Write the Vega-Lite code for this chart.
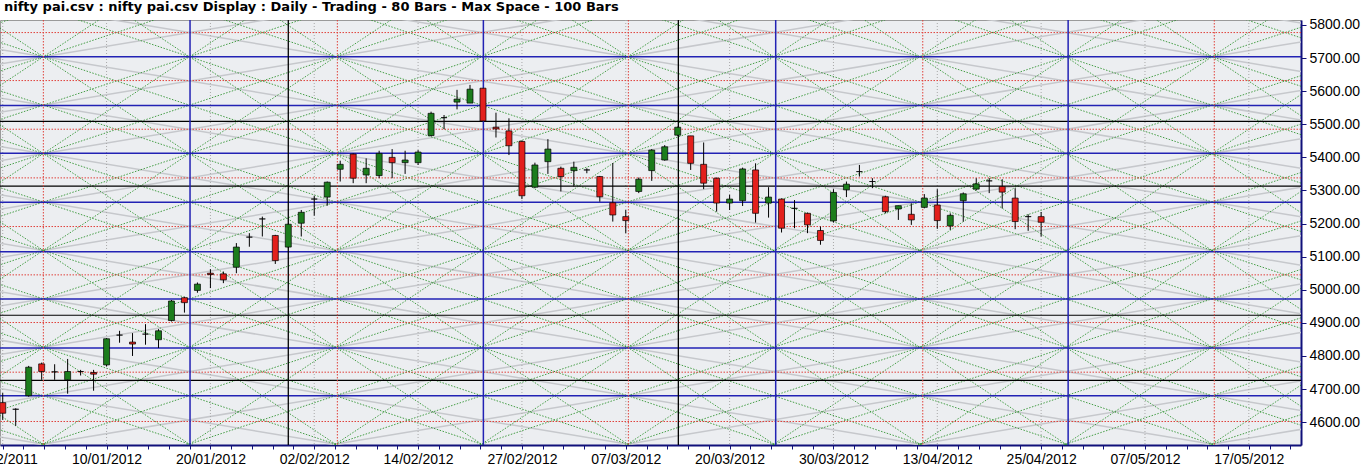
{
  "$schema": "https://vega.github.io/schema/vega-lite/v6.json",
  "width": 1301,
  "height": 425,
  "autosize": {"type": "none"},
  "padding": {"left": 0, "top": 20, "right": 65, "bottom": 25},
  "background": "#ffffff",
  "title": {"text": "nifty pai.csv : nifty pai.csv Display :  Daily  - Trading - 80 Bars -  Max Space - 100 Bars", "anchor": "start", "frame": "group", "dx": 4, "offset": 4, "font": "DejaVu Sans", "fontSize": 13, "fontWeight": "bold", "color": "#000000"},
  "config": {"view": {"fill": "#eceef1", "stroke": "#9a9a9a"}},
  "datasets": {
    "candles": [
      {"i":0,"o":4659,"h":4688,"l":4607,"c":4627},{"i":1,"o":4639,"h":4642,"l":4589,"c":4639},{"i":2,"o":4680,"h":4770,"l":4677,"c":4766},{"i":3,"o":4776,"h":4780,"l":4728,"c":4753},{"i":4,"o":4752,"h":4775,"l":4728,"c":4752},
      {"i":5,"o":4728,"h":4791,"l":4686,"c":4753},{"i":6,"o":4753,"h":4758,"l":4741,"c":4753},{"i":7,"o":4750,"h":4758,"l":4695,"c":4745},{"i":8,"o":4773,"h":4854,"l":4768,"c":4852},{"i":9,"o":4863,"h":4876,"l":4840,"c":4863},
      {"i":10,"o":4842,"h":4869,"l":4800,"c":4836},{"i":11,"o":4866,"h":4896,"l":4834,"c":4866},{"i":12,"o":4849,"h":4881,"l":4824,"c":4876},{"i":13,"o":4907,"h":4969,"l":4904,"c":4966},{"i":14,"o":4976,"h":4979,"l":4931,"c":4961},
      {"i":15,"o":4998,"h":5022,"l":4991,"c":5017},{"i":16,"o":5050,"h":5062,"l":5005,"c":5046},{"i":17,"o":5048,"h":5055,"l":5020,"c":5030},{"i":18,"o":5068,"h":5141,"l":5050,"c":5129},{"i":19,"o":5159,"h":5171,"l":5130,"c":5159},
      {"i":20,"o":5214,"h":5221,"l":5161,"c":5214},{"i":21,"o":5164,"h":5166,"l":5078,"c":5088},{"i":22,"o":5129,"h":5200,"l":5126,"c":5198},{"i":23,"o":5201,"h":5241,"l":5161,"c":5234},{"i":24,"o":5274,"h":5284,"l":5224,"c":5274},
      {"i":25,"o":5280,"h":5327,"l":5254,"c":5325},{"i":26,"o":5364,"h":5390,"l":5327,"c":5379},{"i":27,"o":5410,"h":5412,"l":5322,"c":5337},{"i":28,"o":5347,"h":5397,"l":5322,"c":5367},{"i":29,"o":5345,"h":5420,"l":5337,"c":5412},
      {"i":30,"o":5400,"h":5425,"l":5337,"c":5384},{"i":31,"o":5384,"h":5420,"l":5350,"c":5392},{"i":32,"o":5384,"h":5422,"l":5377,"c":5416},{"i":33,"o":5466,"h":5538,"l":5463,"c":5533},{"i":34,"o":5520,"h":5528,"l":5485,"c":5520},
      {"i":35,"o":5567,"h":5604,"l":5545,"c":5576},{"i":36,"o":5564,"h":5619,"l":5564,"c":5606},{"i":37,"o":5609,"h":5609,"l":5510,"c":5510},{"i":38,"o":5491,"h":5535,"l":5460,"c":5486},{"i":39,"o":5480,"h":5518,"l":5407,"c":5435},
      {"i":40,"o":5448,"h":5451,"l":5274,"c":5284},{"i":41,"o":5310,"h":5384,"l":5307,"c":5377},{"i":42,"o":5387,"h":5455,"l":5350,"c":5425},{"i":43,"o":5367,"h":5372,"l":5297,"c":5342},{"i":44,"o":5360,"h":5387,"l":5312,"c":5370},
      {"i":45,"o":5362,"h":5367,"l":5352,"c":5362},{"i":46,"o":5342,"h":5344,"l":5266,"c":5281},{"i":47,"o":5263,"h":5383,"l":5206,"c":5226},{"i":48,"o":5221,"h":5241,"l":5171,"c":5209},{"i":49,"o":5297,"h":5339,"l":5292,"c":5334},
      {"i":50,"o":5360,"h":5425,"l":5329,"c":5422},{"i":51,"o":5392,"h":5437,"l":5390,"c":5432},{"i":52,"o":5467,"h":5493,"l":5465,"c":5491},{"i":53,"o":5465,"h":5465,"l":5362,"c":5382},{"i":54,"o":5379,"h":5445,"l":5304,"c":5322},
      {"i":55,"o":5337,"h":5339,"l":5236,"c":5262},{"i":56,"o":5262,"h":5287,"l":5241,"c":5274},{"i":57,"o":5269,"h":5369,"l":5253,"c":5365},{"i":58,"o":5362,"h":5382,"l":5203,"c":5231},{"i":59,"o":5262,"h":5310,"l":5218,"c":5280},
      {"i":60,"o":5274,"h":5276,"l":5173,"c":5186},{"i":61,"o":5246,"h":5271,"l":5186,"c":5246},{"i":62,"o":5231,"h":5233,"l":5171,"c":5196},{"i":63,"o":5179,"h":5191,"l":5136,"c":5149},{"i":64,"o":5208,"h":5304,"l":5203,"c":5294},
      {"i":65,"o":5302,"h":5327,"l":5280,"c":5319},{"i":66,"o":5357,"h":5377,"l":5342,"c":5357},{"i":67,"o":5327,"h":5337,"l":5307,"c":5327},{"i":68,"o":5281,"h":5284,"l":5231,"c":5236},{"i":69,"o":5244,"h":5254,"l":5211,"c":5254},
      {"i":70,"o":5228,"h":5261,"l":5196,"c":5211},{"i":71,"o":5249,"h":5289,"l":5246,"c":5277},{"i":72,"o":5256,"h":5304,"l":5184,"c":5209},{"i":73,"o":5193,"h":5231,"l":5181,"c":5225},{"i":74,"o":5269,"h":5294,"l":5206,"c":5290},
      {"i":75,"o":5304,"h":5337,"l":5300,"c":5320},{"i":76,"o":5329,"h":5337,"l":5292,"c":5329},{"i":77,"o":5312,"h":5334,"l":5246,"c":5295},{"i":78,"o":5277,"h":5307,"l":5183,"c":5206},{"i":79,"o":5221,"h":5228,"l":5178,"c":5221},
      {"i":80,"o":5221,"h":5235,"l":5161,"c":5204}
    ],
    "gfans": [
      {"a":-1,"p1":4560.4,"b":101,"p2":3897.4},{"a":-1,"p1":4706.7,"b":101,"p2":4043.7},{"a":-1,"p1":4853.0,"b":101,"p2":4190.0},{"a":-1,"p1":4999.3,"b":101,"p2":4336.3},{"a":-1,"p1":5145.6,"b":101,"p2":4482.6},
      {"a":-1,"p1":5291.9,"b":101,"p2":4628.9},{"a":-1,"p1":5438.2,"b":101,"p2":4775.2},{"a":-1,"p1":5584.5,"b":101,"p2":4921.5},{"a":-1,"p1":5730.8,"b":101,"p2":5067.8},{"a":-1,"p1":5877.1,"b":101,"p2":5214.1},
      {"a":-1,"p1":6023.4,"b":101,"p2":5360.4},{"a":-1,"p1":6169.7,"b":101,"p2":5506.7},{"a":-1,"p1":6316.0,"b":101,"p2":5653.0},{"a":-1,"p1":6462.3,"b":101,"p2":5799.3},
      {"a":-1,"p1":5677.2,"b":101,"p2":6340.2},{"a":-1,"p1":5530.9,"b":101,"p2":6193.9},{"a":-1,"p1":5384.6,"b":101,"p2":6047.6},{"a":-1,"p1":5238.3,"b":101,"p2":5901.3},{"a":-1,"p1":5092.0,"b":101,"p2":5755.0},
      {"a":-1,"p1":4945.7,"b":101,"p2":5608.7},{"a":-1,"p1":4799.4,"b":101,"p2":5462.4},{"a":-1,"p1":4653.1,"b":101,"p2":5316.1},{"a":-1,"p1":4506.8,"b":101,"p2":5169.8},{"a":-1,"p1":4360.5,"b":101,"p2":5023.5},
      {"a":-1,"p1":4214.2,"b":101,"p2":4877.2},{"a":-1,"p1":4067.9,"b":101,"p2":4730.9},{"a":-1,"p1":3921.6,"b":101,"p2":4584.6}
    ],
    "fans": [
      {"a":-1,"p1":4641.0,"b":101,"p2":1989.0},{"a":-1,"p1":4933.6,"b":101,"p2":2281.6},{"a":-1,"p1":5226.2,"b":101,"p2":2574.2},{"a":-1,"p1":5518.8,"b":101,"p2":2866.8},{"a":-1,"p1":5811.4,"b":101,"p2":3159.4},
      {"a":-1,"p1":6104.0,"b":101,"p2":3452.0},{"a":-1,"p1":6396.6,"b":101,"p2":3744.6},{"a":-1,"p1":6689.2,"b":101,"p2":4037.2},{"a":-1,"p1":6981.8,"b":101,"p2":4329.8},{"a":-1,"p1":7274.4,"b":101,"p2":4622.4},
      {"a":-1,"p1":7567.0,"b":101,"p2":4915.0},{"a":-1,"p1":7859.6,"b":101,"p2":5207.6},{"a":-1,"p1":8152.2,"b":101,"p2":5500.2},{"a":-1,"p1":8444.8,"b":101,"p2":5792.8},
      {"a":-1,"p1":5596.6,"b":101,"p2":8248.6},{"a":-1,"p1":5304.0,"b":101,"p2":7956.0},{"a":-1,"p1":5011.4,"b":101,"p2":7663.4},{"a":-1,"p1":4718.8,"b":101,"p2":7370.8},{"a":-1,"p1":4426.2,"b":101,"p2":7078.2},
      {"a":-1,"p1":4133.6,"b":101,"p2":6785.6},{"a":-1,"p1":3841.0,"b":101,"p2":6493.0},{"a":-1,"p1":3548.4,"b":101,"p2":6200.4},{"a":-1,"p1":3255.8,"b":101,"p2":5907.8},{"a":-1,"p1":2963.2,"b":101,"p2":5615.2},
      {"a":-1,"p1":2670.6,"b":101,"p2":5322.6},{"a":-1,"p1":2378.0,"b":101,"p2":5030.0},{"a":-1,"p1":2085.4,"b":101,"p2":4737.4},
      {"a":-1,"p1":4587.3,"b":101,"p2":3261.3},{"a":-1,"p1":4733.6,"b":101,"p2":3407.6},{"a":-1,"p1":4879.9,"b":101,"p2":3553.9},{"a":-1,"p1":5026.2,"b":101,"p2":3700.2},{"a":-1,"p1":5172.5,"b":101,"p2":3846.5},
      {"a":-1,"p1":5318.8,"b":101,"p2":3992.8},{"a":-1,"p1":5465.1,"b":101,"p2":4139.1},{"a":-1,"p1":5611.4,"b":101,"p2":4285.4},{"a":-1,"p1":5757.7,"b":101,"p2":4431.7},{"a":-1,"p1":5904.0,"b":101,"p2":4578.0},
      {"a":-1,"p1":6050.3,"b":101,"p2":4724.3},{"a":-1,"p1":6196.6,"b":101,"p2":4870.6},{"a":-1,"p1":6342.9,"b":101,"p2":5016.9},{"a":-1,"p1":6489.2,"b":101,"p2":5163.2},{"a":-1,"p1":6635.5,"b":101,"p2":5309.5},
      {"a":-1,"p1":6781.8,"b":101,"p2":5455.8},{"a":-1,"p1":6928.1,"b":101,"p2":5602.1},{"a":-1,"p1":7074.4,"b":101,"p2":5748.4},
      {"a":-1,"p1":5796.6,"b":101,"p2":7122.6},{"a":-1,"p1":5650.3,"b":101,"p2":6976.3},{"a":-1,"p1":5504.0,"b":101,"p2":6830.0},{"a":-1,"p1":5357.7,"b":101,"p2":6683.7},{"a":-1,"p1":5211.4,"b":101,"p2":6537.4},
      {"a":-1,"p1":5065.1,"b":101,"p2":6391.1},{"a":-1,"p1":4918.8,"b":101,"p2":6244.8},{"a":-1,"p1":4772.5,"b":101,"p2":6098.5},{"a":-1,"p1":4626.2,"b":101,"p2":5952.2},{"a":-1,"p1":4479.9,"b":101,"p2":5805.9},
      {"a":-1,"p1":4333.6,"b":101,"p2":5659.6},{"a":-1,"p1":4187.3,"b":101,"p2":5513.3},{"a":-1,"p1":4041.0,"b":101,"p2":5367.0},{"a":-1,"p1":3894.7,"b":101,"p2":5220.7},{"a":-1,"p1":3748.4,"b":101,"p2":5074.4},
      {"a":-1,"p1":3602.1,"b":101,"p2":4928.1},{"a":-1,"p1":3455.8,"b":101,"p2":4781.8},{"a":-1,"p1":3309.5,"b":101,"p2":4635.5}
    ]
  },
  "encoding": {
    "x": {"type": "quantitative", "scale": {"domain": [-0.21, 100.02], "nice": false, "zero": false, "padding": 0},
          "axis": {"orient": "bottom", "values": [0,1.6,3.2,4.8,6.4,8,9.6,11.2,12.8,14.4,16,17.6,19.2,20.8,22.4,24,25.6,27.2,28.8,30.4,32,33.6,35.2,36.8,38.4,40,41.6,43.2,44.8,46.4,48,49.6,51.2,52.8,54.4,56,57.6,59.2,60.8,62.4,64,65.6,67.2,68.8,70.4,72,73.6,75.2,76.8,78.4,80,81.6,83.2,84.8,86.4,88,89.6,91.2,92.8,94.4,96,97.6,99.2], "labelExpr": "datum.value % 8 == 0 ? ['30/12/2011','10/01/2012','20/01/2012','02/02/2012','14/02/2012','27/02/2012','07/03/2012','20/03/2012','30/03/2012','13/04/2012','25/04/2012','07/05/2012','17/05/2012'][round(datum.value / 8)] : ''", "labelOverlap": false, "labelFlush": false, "labelFont": "Liberation Sans", "labelFontSize": 14, "labelColor": "#000000", "labelPadding": 3, "domainColor": "#10107a", "domainWidth": 2, "tickColor": "#10107a", "tickSize": 4, "grid": false, "title": null}},
    "y": {"type": "quantitative", "scale": {"domain": [4531, 5815], "nice": false, "zero": false, "padding": 0},
          "axis": {"orient": "right", "values": [4600,4700,4800,4900,5000,5100,5200,5300,5400,5500,5600,5700,5800], "format": ".2f", "labelFont": "Liberation Sans", "labelFontSize": 14, "labelColor": "#000000", "labelPadding": 3, "domainColor": "#10107a", "domainWidth": 2, "tickColor": "#10107a", "tickSize": 5, "grid": false, "title": null}}
  },
  "layer": [
    {
      "data": {"name": "gfans"},
      "mark": {"type": "rule", "clip": true, "color": "#c6c8cc", "strokeWidth": 1.5},
      "encoding": {
        "x": {"field": "a"},
        "x2": {"field": "b"},
        "y": {"field": "p1"},
        "y2": {"field": "p2"}
      }
    },
    {
      "data": {"name": "fans"},
      "mark": {"type": "rule", "clip": true, "color": "#1b8a1b", "strokeWidth": 1, "strokeDash": [1.5, 1.5], "opacity": 0.8},
      "encoding": {
        "x": {"field": "a"},
        "x2": {"field": "b"},
        "y": {"field": "p1"},
        "y2": {"field": "p2"}
      }
    },
    {
      "data": {"values": [{"t":0},{"t":8},{"t":16},{"t":24},{"t":32},{"t":40},{"t":48},{"t":56},{"t":64},{"t":72},{"t":80},{"t":88},{"t":96}]},
      "mark": {"type": "rule", "color": "#a8a8a8", "strokeWidth": 1, "strokeDash": [1, 2]},
      "encoding": {"x": {"field": "t"}, "y": null}
    },
    {
      "data": {"values": [{"p":5777},{"p":5632},{"p":5485},{"p":5338},{"p":5191},{"p":5045},{"p":4901},{"p":4751},{"p":4602}]},
      "mark": {"type": "rule", "color": "#e0403a", "strokeWidth": 1, "strokeDash": [1.5, 1.5]},
      "encoding": {"y": {"field": "p"}, "x": null}
    },
    {
      "data": {"values": [{"p":5509},{"p":5313},{"p":4923},{"p":4726}]},
      "mark": {"type": "rule", "color": "#000000", "strokeWidth": 1.2},
      "encoding": {"y": {"field": "p"}, "x": null}
    },
    {
      "data": {"values": [{"p":5704},{"p":5557},{"p":5412.5},{"p":5264.5},{"p":5115},{"p":4972},{"p":4824},{"p":4680}]},
      "mark": {"type": "rule", "color": "#2222b4", "strokeWidth": 1.5},
      "encoding": {"y": {"field": "p"}, "x": null}
    },
    {
      "data": {"values": [{"t":3.13},{"t":25.78},{"t":48.2},{"t":70.88},{"t":93.34}]},
      "mark": {"type": "rule", "color": "#e0403a", "strokeWidth": 1, "strokeDash": [1.5, 1.5]},
      "encoding": {"x": {"field": "t"}, "y": null}
    },
    {
      "data": {"values": [{"t":22.0},{"t":52.05}]},
      "mark": {"type": "rule", "color": "#000000", "strokeWidth": 1.3},
      "encoding": {"x": {"field": "t"}, "y": null}
    },
    {
      "data": {"values": [{"t":14.43},{"t":37.03},{"t":59.55},{"t":82.08}]},
      "mark": {"type": "rule", "color": "#2222b4", "strokeWidth": 1.5},
      "encoding": {"x": {"field": "t"}, "y": null}
    },
    {
      "data": {"name": "candles"},
      "mark": {"type": "rule", "color": "#000000", "strokeWidth": 1},
      "encoding": {
        "x": {"field": "i"},
        "y": {"field": "l"},
        "y2": {"field": "h"}
      }
    },
    {
      "data": {"name": "candles"},
      "mark": {"type": "bar", "size": 6, "stroke": "#000000", "strokeWidth": 0.7},
      "encoding": {
        "x": {"field": "i"},
        "y": {"field": "o"},
        "y2": {"field": "c"},
        "color": {"condition": [{"test": "datum.c > datum.o", "value": "#1c7d1c"}, {"test": "datum.c < datum.o", "value": "#e3201c"}], "value": "#000000"}
      }
    }
  ]
}
